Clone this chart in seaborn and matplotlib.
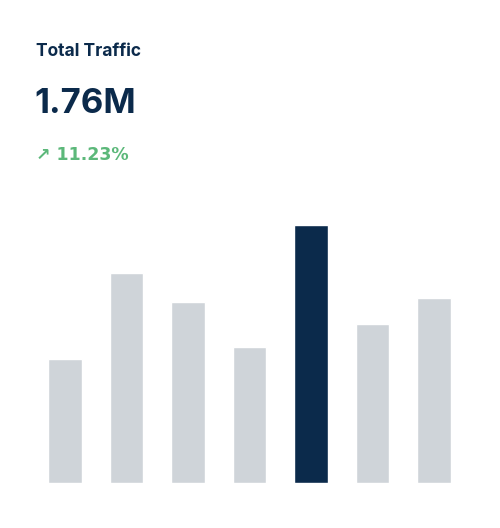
import matplotlib
matplotlib.use("Agg")
import matplotlib.pyplot as plt
import seaborn as sns
import pandas as pd

days = ["1", "2", "3", "4", "5", "6", "7"]
traffic = [124, 210, 181, 136, 258, 159, 185]
highlight = [False, False, False, False, True, False, False]

title = "Total Traffic"
total = "1.76M"
change = "↗ 11.23%"

sns.set_theme(style="white")
plt.rcParams['font.family'] = ['Inter', 'DejaVu Sans']

fig = plt.figure(figsize=(5, 5.28), dpi=100)
ax = fig.add_axes([0.0685, 45/528, 0.861, 270/528])
df = pd.DataFrame({"day": days, "v": traffic})
colors = ["#0b2a4b" if h else "#cfd4d9" for h in highlight]
sns.barplot(data=df, x="day", y="v", hue="day", palette=colors, legend=False,
            width=0.54, ax=ax, saturation=1)
ax.set_xlim(-0.5, 6.5)
ax.set_ylim(0, 270)
ax.axis("off")

fig.text(36/500, 1-52/528, title, fontsize=12.5, fontweight="bold", color="#0b2a4b", va="center")
fig.text(34/500, 1-104/528, total, fontsize=25, fontweight="bold", color="#0b2a4b", va="center")
fig.text(36/500, 1-155/528, change, fontsize=12.5, fontweight="bold", color="#5cb87a", va="center",
         family=['DejaVu Sans'])
fig.savefig("out.png", dpi=100, facecolor="white")
